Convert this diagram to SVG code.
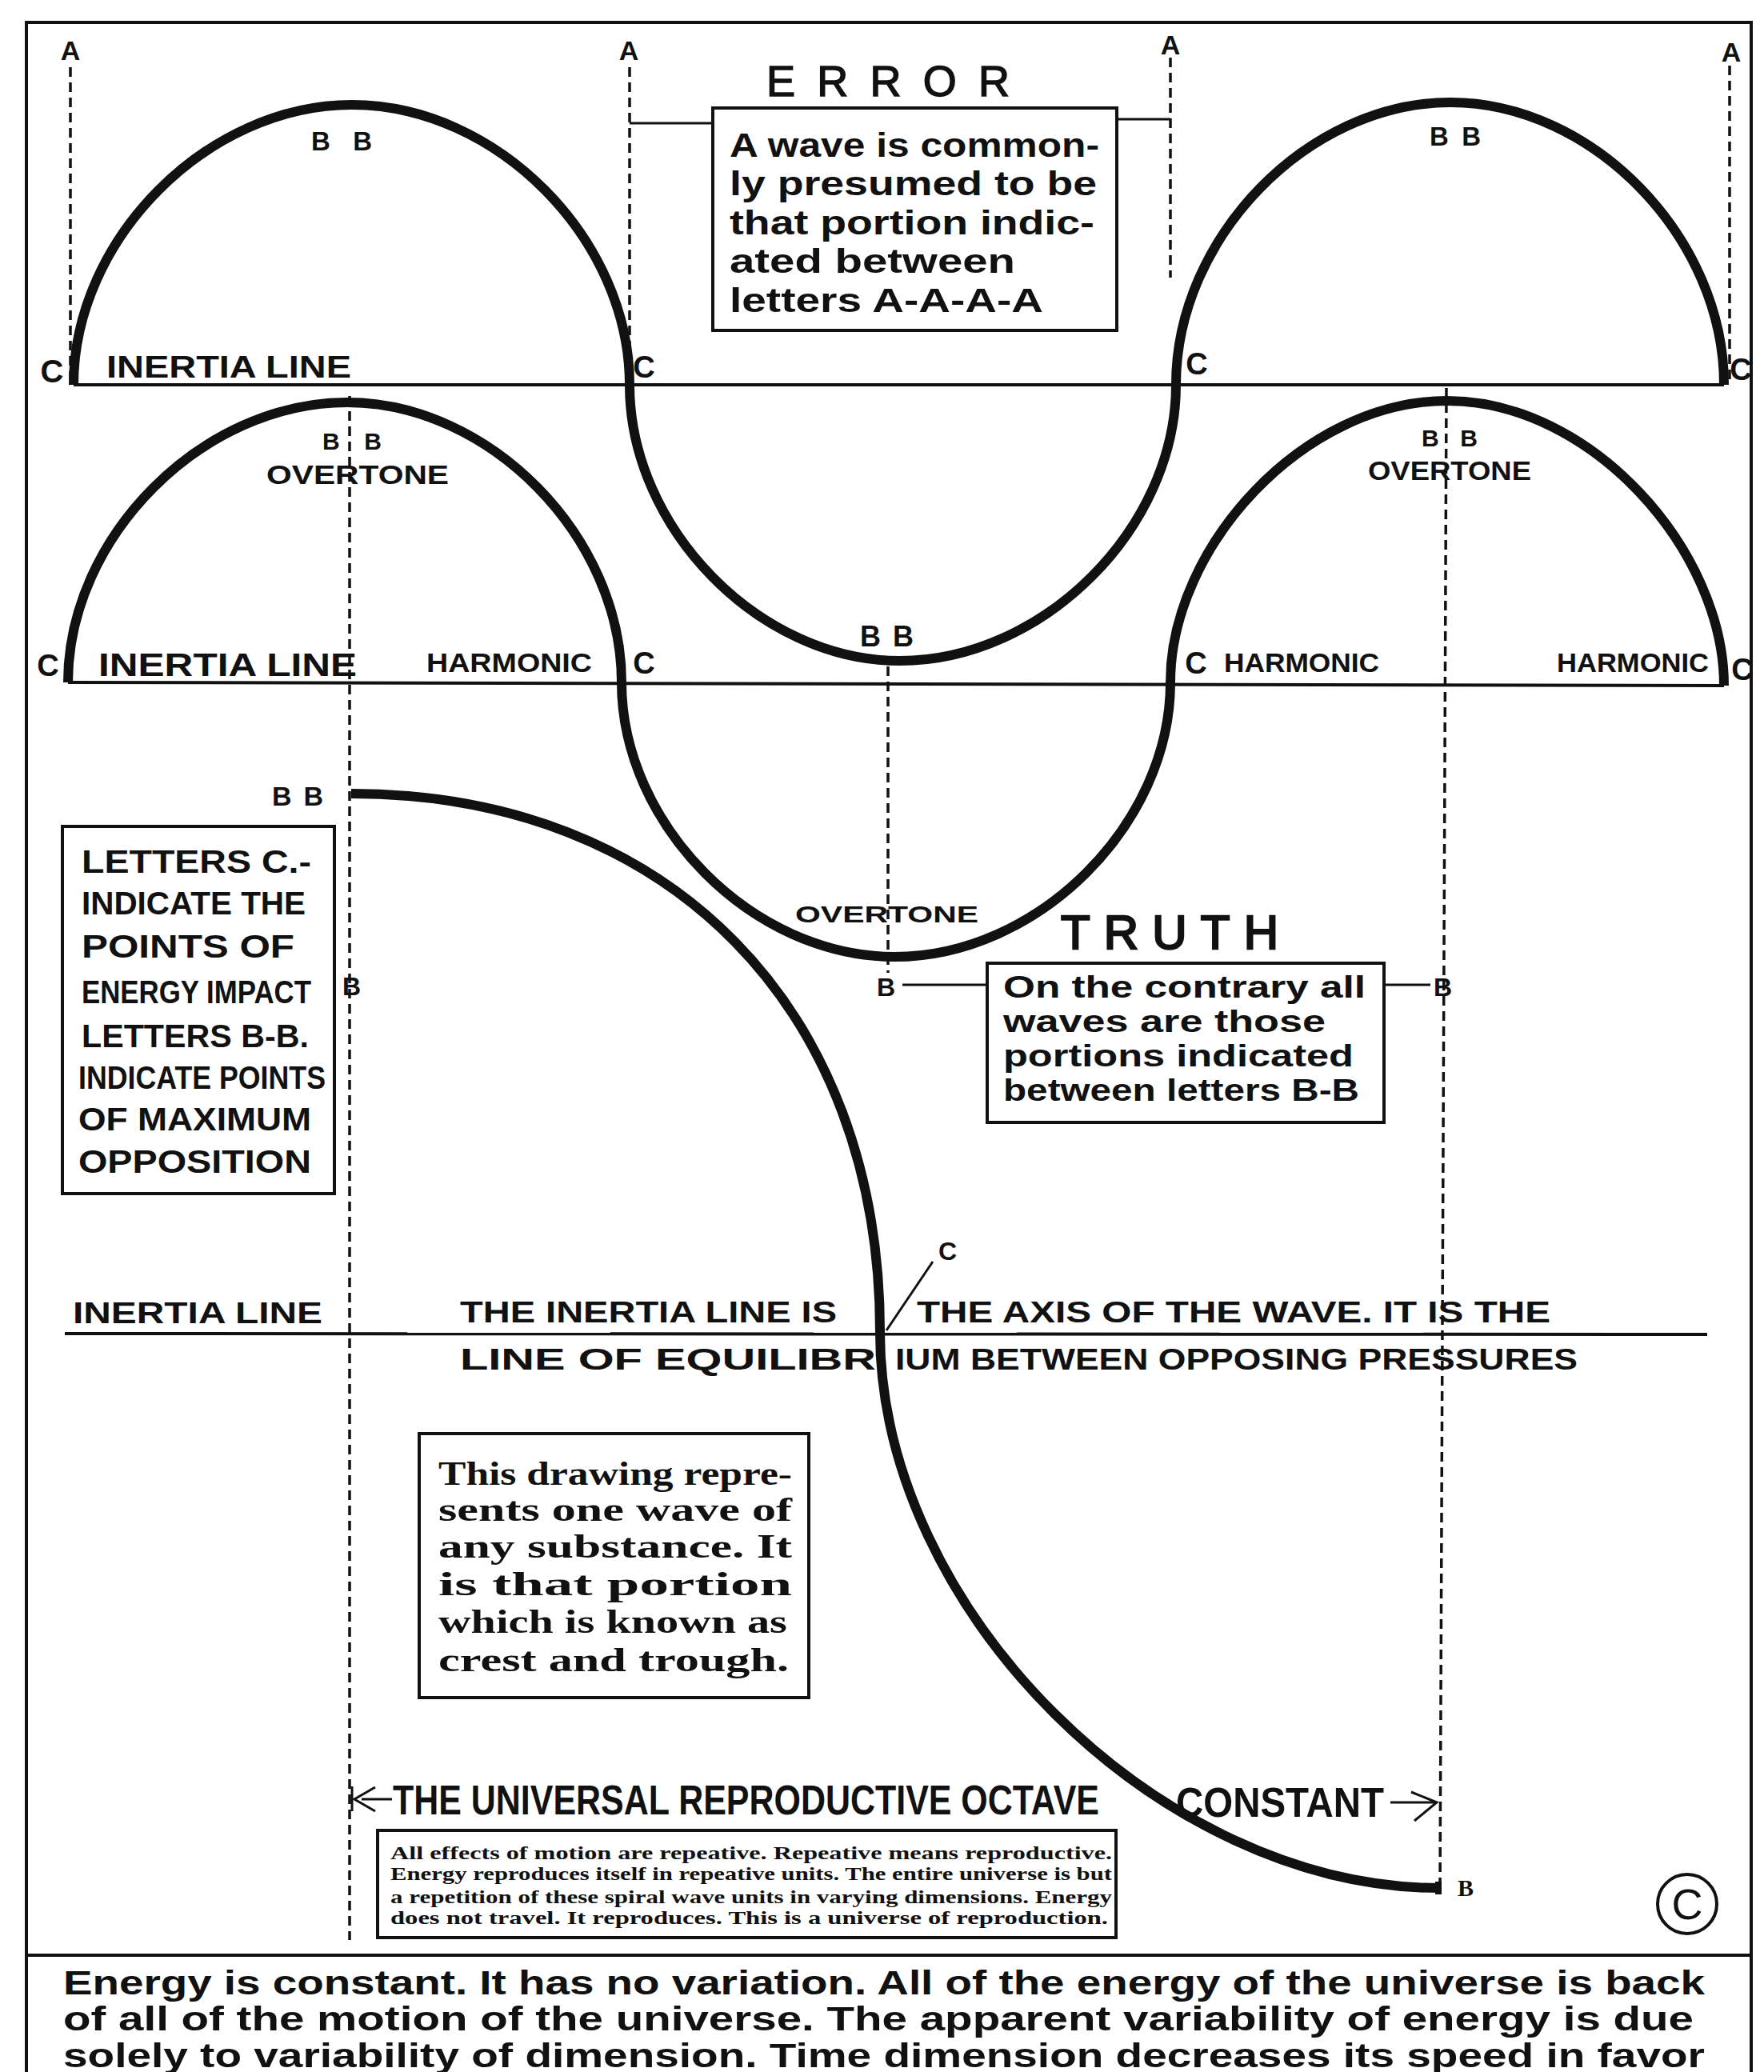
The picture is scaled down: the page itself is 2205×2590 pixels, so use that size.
<svg xmlns="http://www.w3.org/2000/svg" width="2205" height="2590" viewBox="0 0 2205 2590">
<style>
.wave{fill:none;stroke:#111;stroke-width:12}
.axis{fill:none;stroke:#111;stroke-width:4}
.dash{fill:none;stroke:#111;stroke-width:3.5;stroke-dasharray:12 7}
.box{fill:none;stroke:#111;stroke-width:4}
.con{fill:none;stroke:#111;stroke-width:3}
.s{font-family:"Liberation Sans",Arial,sans-serif;font-weight:bold;fill:#111}
.r{font-family:"Liberation Sans",Arial,sans-serif;font-weight:normal;fill:#111}
.f{font-family:"Liberation Serif","Times New Roman",serif;font-weight:bold;fill:#111}
.fr{font-family:"Liberation Serif","Times New Roman",serif;font-weight:bold;fill:#111}
</style>
<rect width="2205" height="2590" fill="#fff"/>

<g id="frame">
<path class="axis" d="M33,2600 V28 H2189 V2600" stroke-width="5"/>
<line class="axis" x1="33" y1="2444" x2="2189" y2="2444" stroke-width="5"/>
</g>

<g id="guides">
<line class="dash" x1="88" y1="84" x2="88" y2="474"/>
<line class="dash" x1="787" y1="84" x2="787" y2="481"/>
<line class="dash" x1="1463" y1="72" x2="1463" y2="347"/>
<line class="dash" x1="2162" y1="82" x2="2162" y2="474"/>
<line class="dash" x1="437" y1="495" x2="437" y2="2425"/>
<line class="dash" x1="1110" y1="833" x2="1110" y2="1216"/>
<line class="dash" x1="1808" y1="485" x2="1800" y2="2366"/>
</g>

<g id="inertia-lines">
<line class="axis" x1="92" y1="481" x2="2155" y2="481"/>
<line class="axis" x1="85" y1="853" x2="2155" y2="857"/>
<line class="axis" x1="81" y1="1667" x2="2134" y2="1668"/>
</g>

<g id="wave-error">
<path class="wave" d="M92,481 C92,299 259,131 440,131 C621,131 787,299 787,481 C787,660 949,826 1125,826 C1304,826 1470,660 1470,481 C1470,297 1635,128 1813,128 C1991,128 2155,297 2155,481"/>
</g>

<g id="wave-overtone">
<path class="wave" d="M85,853 C85,671 253,503 434,503 C612,503 777,671 777,853 C777,1031 941,1196 1118,1196 C1297,1196 1463,1031 1463,853 C1463,684 1629,501 1809,501 C1989,501 2155,688 2155,857"/>
</g>

<g id="wave-truth">
<path class="wave" d="M439,992 C836,992 1100,1261 1100,1665 C1100,2012 1450,2360 1800,2360"/>
<line x1="1794" y1="2360" x2="1802" y2="2360" stroke="#111" stroke-width="16"/>
</g>

<g id="labels-a">
<text class="s" font-size="34" text-anchor="middle" x="88" y="75">A</text>
<text class="s" font-size="34" text-anchor="middle" x="786" y="75">A</text>
<text class="s" font-size="34" text-anchor="middle" x="1463" y="68">A</text>
<text class="s" font-size="34" text-anchor="middle" x="2164" y="77">A</text>
</g>

<g id="labels-row1">
<text class="s" font-size="40" text-anchor="middle" x="65" y="478">C</text>
<text class="s" font-size="38" text-anchor="middle" x="805" y="472">C</text>
<text class="s" font-size="38" text-anchor="middle" x="1496" y="468">C</text>
<text class="s" font-size="38" text-anchor="middle" x="2176" y="475">C</text>
<text class="s" font-size="38" x="133" y="472" textLength="306" lengthAdjust="spacingAndGlyphs">INERTIA LINE</text>
<text class="s" font-size="33" x="389" y="188" textLength="76" lengthAdjust="spacing">B B</text>
<text class="s" font-size="33" x="1787" y="182" textLength="64" lengthAdjust="spacing">B B</text>
</g>

<g id="labels-row2">
<text class="s" font-size="38" text-anchor="middle" x="60" y="845">C</text>
<text class="s" font-size="40" x="123" y="845" textLength="323" lengthAdjust="spacingAndGlyphs">INERTIA LINE</text>
<text class="s" font-size="33" x="533" y="840" textLength="207" lengthAdjust="spacingAndGlyphs">HARMONIC</text>
<text class="s" font-size="38" text-anchor="middle" x="805" y="842">C</text>
<text class="s" font-size="38" text-anchor="middle" x="1495" y="842">C</text>
<text class="s" font-size="33" x="1530" y="840" textLength="194" lengthAdjust="spacingAndGlyphs">HARMONIC</text>
<text class="s" font-size="33" x="1946" y="840" textLength="190" lengthAdjust="spacingAndGlyphs">HARMONIC</text>
<text class="s" font-size="38" text-anchor="middle" x="2178" y="850">C</text>
<text class="s" font-size="30" x="403" y="562" textLength="74" lengthAdjust="spacing">B B</text>
<text class="s" font-size="33" x="333" y="605" textLength="228" lengthAdjust="spacingAndGlyphs">OVERTONE</text>
<text class="s" font-size="30" x="1777" y="558" textLength="70" lengthAdjust="spacing">B B</text>
<text class="s" font-size="33" x="1710" y="600" textLength="204" lengthAdjust="spacingAndGlyphs">OVERTONE</text>
<text class="s" font-size="36" x="1075" y="808" textLength="67" lengthAdjust="spacing">B B</text>
</g>

<g id="labels-row3">
<text class="s" font-size="34" x="340" y="1007" textLength="64" lengthAdjust="spacing">B B</text>
<text class="s" font-size="30" x="994" y="1153" textLength="229" lengthAdjust="spacingAndGlyphs">OVERTONE</text>
<text class="s" font-size="32" x="428" y="1244">B</text>
<text class="s" font-size="32" x="1096" y="1245">B</text>
<text class="s" font-size="32" x="1792" y="1245">B</text>
<text class="s" font-size="32" x="1173" y="1575">C</text>
<text class="f" font-size="30" x="1822" y="2370">B</text>
<text class="s" font-size="37" x="91" y="1654" textLength="312" lengthAdjust="spacingAndGlyphs">INERTIA LINE</text>
<text class="s" font-size="37" x="575" y="1653" textLength="471" lengthAdjust="spacingAndGlyphs">THE INERTIA LINE IS</text>
<text class="s" font-size="37" x="1146" y="1653" textLength="792" lengthAdjust="spacingAndGlyphs">THE AXIS OF THE WAVE. IT IS THE</text>
<text class="s" font-size="37" x="575" y="1712" textLength="520" lengthAdjust="spacingAndGlyphs">LINE  OF  EQUILIBR</text>
<text class="s" font-size="37" x="1119" y="1712" textLength="853" lengthAdjust="spacingAndGlyphs">IUM BETWEEN OPPOSING PRESSURES</text>
</g>

<g id="error-note">
<text class="r" font-size="54" x="958" y="120" textLength="304" lengthAdjust="spacing" stroke="#111" stroke-width="1.5">ERROR</text>
<rect class="box" x="891" y="135" width="505" height="278"/>
<text class="s" font-size="42" x="912" y="196" textLength="462" lengthAdjust="spacingAndGlyphs">A wave is common-</text>
<text class="s" font-size="42" x="912" y="244" textLength="459" lengthAdjust="spacingAndGlyphs">ly presumed to be</text>
<text class="s" font-size="42" x="912" y="293" textLength="456" lengthAdjust="spacingAndGlyphs">that portion indic-</text>
<text class="s" font-size="42" x="912" y="341" textLength="357" lengthAdjust="spacingAndGlyphs">ated between</text>
<text class="s" font-size="42" x="912" y="390" textLength="392" lengthAdjust="spacingAndGlyphs">letters A-A-A-A</text>
</g>

<g id="truth-note">
<text class="r" font-size="60" x="1326" y="1186" textLength="272" lengthAdjust="spacing" stroke="#111" stroke-width="2.5">TRUTH</text>
<rect class="box" x="1234" y="1204" width="496" height="199"/>
<text class="s" font-size="38" x="1254" y="1247" textLength="453" lengthAdjust="spacingAndGlyphs">On the contrary all</text>
<text class="s" font-size="38" x="1254" y="1290" textLength="403" lengthAdjust="spacingAndGlyphs">waves are those</text>
<text class="s" font-size="38" x="1254" y="1333" textLength="438" lengthAdjust="spacingAndGlyphs">portions indicated</text>
<text class="s" font-size="38" x="1254" y="1376" textLength="445" lengthAdjust="spacingAndGlyphs">between letters B-B</text>
</g>

<g id="letters-note">
<rect class="box" x="78" y="1033" width="340" height="459"/>
<text class="s" font-size="40" x="102" y="1091" textLength="287" lengthAdjust="spacingAndGlyphs">LETTERS C.-</text>
<text class="s" font-size="40" x="102" y="1143" textLength="280" lengthAdjust="spacingAndGlyphs">INDICATE THE</text>
<text class="s" font-size="40" x="102" y="1197" textLength="266" lengthAdjust="spacingAndGlyphs">POINTS  OF</text>
<text class="s" font-size="40" x="102" y="1254" textLength="287" lengthAdjust="spacingAndGlyphs">ENERGY IMPACT</text>
<text class="s" font-size="40" x="102" y="1309" textLength="284" lengthAdjust="spacingAndGlyphs">LETTERS B-B.</text>
<text class="s" font-size="40" x="98" y="1361" textLength="309" lengthAdjust="spacingAndGlyphs">INDICATE POINTS</text>
<text class="s" font-size="40" x="98" y="1413" textLength="291" lengthAdjust="spacingAndGlyphs">OF MAXIMUM</text>
<text class="s" font-size="40" x="98" y="1466" textLength="291" lengthAdjust="spacingAndGlyphs">OPPOSITION</text>
</g>

<g id="drawing-note">
<rect class="box" x="524" y="1792" width="487" height="330"/>
<text class="f" font-size="42" x="548" y="1856" textLength="442" lengthAdjust="spacingAndGlyphs">This drawing repre-</text>
<text class="f" font-size="42" x="548" y="1901" textLength="442" lengthAdjust="spacingAndGlyphs">sents  one  wave  of</text>
<text class="f" font-size="42" x="548" y="1947" textLength="442" lengthAdjust="spacingAndGlyphs">any  substance.  It</text>
<text class="f" font-size="42" x="548" y="1994" textLength="442" lengthAdjust="spacingAndGlyphs">is  that  portion</text>
<text class="f" font-size="42" x="548" y="2041" textLength="436" lengthAdjust="spacingAndGlyphs">which  is  known  as</text>
<text class="f" font-size="42" x="548" y="2089" textLength="438" lengthAdjust="spacingAndGlyphs">crest  and  trough.</text>
</g>

<g id="octave-note">
<text class="s" font-size="52" transform="translate(491,2268) scale(0.78,1)" x="0" y="0" textLength="1132" lengthAdjust="spacingAndGlyphs">THE UNIVERSAL REPRODUCTIVE OCTAVE</text>
<text class="s" font-size="52" transform="translate(1470,2271) scale(0.85,1)" x="0" y="0" textLength="306" lengthAdjust="spacingAndGlyphs">CONSTANT</text>
<rect class="box" x="472" y="2288" width="923" height="134" stroke-width="5"/>
<text class="fr" font-size="23" x="488" y="2324" textLength="902" lengthAdjust="spacingAndGlyphs">All effects of motion are repeative.   Repeative means reproductive.</text>
<text class="fr" font-size="23" x="488" y="2350" textLength="902" lengthAdjust="spacingAndGlyphs">Energy reproduces itself in repeative units.  The entire universe is but</text>
<text class="fr" font-size="23" x="488" y="2379" textLength="902" lengthAdjust="spacingAndGlyphs">a repetition of these spiral wave units in varying dimensions.  Energy</text>
<text class="fr" font-size="23" x="488" y="2405" textLength="897" lengthAdjust="spacingAndGlyphs">does not travel.  It reproduces.  This is a universe of reproduction.</text>
</g>

<g id="copyright">
<circle cx="2109" cy="2380" r="37" fill="none" stroke="#111" stroke-width="4"/>
<text class="r" font-size="54" text-anchor="middle" x="2109" y="2399">C</text>
</g>

<g id="footer">
<text class="s" font-size="42" x="79" y="2493" textLength="2052" lengthAdjust="spacingAndGlyphs">Energy is constant. It has no variation. All of the energy of the universe is back</text>
<text class="s" font-size="42" x="79" y="2538" textLength="2038" lengthAdjust="spacingAndGlyphs">of all of the motion of the universe.  The apparent variability of energy is due</text>
<text class="s" font-size="42" x="79" y="2584" textLength="2052" lengthAdjust="spacingAndGlyphs">solely to variability of dimension.  Time dimension decreases its speed in favor</text>
</g>

<g id="connectors">
<line class="con" x1="787" y1="154" x2="891" y2="154"/>
<line class="con" x1="1396" y1="149" x2="1463" y2="149"/>
<line class="con" x1="1128" y1="1231" x2="1234" y2="1231"/>
<line class="con" x1="1730" y1="1231" x2="1788" y2="1231"/>
<line class="con" x1="1108" y1="1663" x2="1166" y2="1577"/>
<line class="con" x1="440" y1="2233" x2="440" y2="2264" stroke-width="5"/>
<polyline class="con" points="469,2234 443,2249 469,2264" stroke-width="5"/>
<line class="con" x1="452" y1="2249" x2="490" y2="2249" stroke-width="5"/>
<line class="con" x1="1738" y1="2253" x2="1794" y2="2253" stroke-width="5"/>
<polyline class="con" points="1764,2240 1796,2253 1768,2276" stroke-width="5"/>
</g>
</svg>
